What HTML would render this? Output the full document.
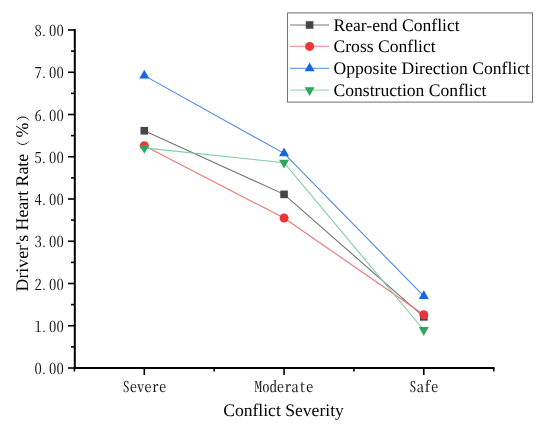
<!DOCTYPE html>
<html><head><meta charset="utf-8"><style>
html,body{margin:0;padding:0;background:#fff;}
svg{display:block;}
text{text-rendering:geometricPrecision;}
.tk{font-family:"Noto Serif CJK SC",serif;font-size:14.6px;font-feature-settings:"hwid";fill:#111;}
.lg{font-family:"Liberation Serif","Noto Serif CJK SC",serif;font-size:17.6px;fill:#000;}
.pr{font-family:"Noto Serif CJK SC",serif;font-size:13.5px;}
.ti{font-family:"Liberation Serif","Noto Serif CJK SC",serif;font-size:17.6px;fill:#000;}
</style></head><body>
<svg width="550" height="432" viewBox="0 0 550 432">
<rect width="550" height="432" fill="#fff"/>
<line x1="74.8" y1="29" x2="74.8" y2="369.0" stroke="#000" stroke-width="2"/>
<line x1="73.8" y1="368.0" x2="494.6" y2="368.0" stroke="#000" stroke-width="2"/>
<line x1="68" y1="368.00" x2="74.8" y2="368.00" stroke="#000" stroke-width="1.6"/>
<line x1="71" y1="346.88" x2="74.8" y2="346.88" stroke="#000" stroke-width="1.6"/>
<line x1="68" y1="325.75" x2="74.8" y2="325.75" stroke="#000" stroke-width="1.6"/>
<line x1="71" y1="304.62" x2="74.8" y2="304.62" stroke="#000" stroke-width="1.6"/>
<line x1="68" y1="283.50" x2="74.8" y2="283.50" stroke="#000" stroke-width="1.6"/>
<line x1="71" y1="262.38" x2="74.8" y2="262.38" stroke="#000" stroke-width="1.6"/>
<line x1="68" y1="241.25" x2="74.8" y2="241.25" stroke="#000" stroke-width="1.6"/>
<line x1="71" y1="220.12" x2="74.8" y2="220.12" stroke="#000" stroke-width="1.6"/>
<line x1="68" y1="199.00" x2="74.8" y2="199.00" stroke="#000" stroke-width="1.6"/>
<line x1="71" y1="177.88" x2="74.8" y2="177.88" stroke="#000" stroke-width="1.6"/>
<line x1="68" y1="156.75" x2="74.8" y2="156.75" stroke="#000" stroke-width="1.6"/>
<line x1="71" y1="135.62" x2="74.8" y2="135.62" stroke="#000" stroke-width="1.6"/>
<line x1="68" y1="114.50" x2="74.8" y2="114.50" stroke="#000" stroke-width="1.6"/>
<line x1="71" y1="93.38" x2="74.8" y2="93.38" stroke="#000" stroke-width="1.6"/>
<line x1="68" y1="72.25" x2="74.8" y2="72.25" stroke="#000" stroke-width="1.6"/>
<line x1="71" y1="51.12" x2="74.8" y2="51.12" stroke="#000" stroke-width="1.6"/>
<line x1="68" y1="30.00" x2="74.8" y2="30.00" stroke="#000" stroke-width="1.6"/>
<line x1="144.30" y1="368.0" x2="144.30" y2="375" stroke="#000" stroke-width="1.6"/>
<line x1="284.05" y1="368.0" x2="284.05" y2="375" stroke="#000" stroke-width="1.6"/>
<line x1="423.80" y1="368.0" x2="423.80" y2="375" stroke="#000" stroke-width="1.6"/>
<line x1="74.43" y1="368.0" x2="74.43" y2="371.5" stroke="#000" stroke-width="1.6"/>
<line x1="214.18" y1="368.0" x2="214.18" y2="371.5" stroke="#000" stroke-width="1.6"/>
<line x1="353.93" y1="368.0" x2="353.93" y2="371.5" stroke="#000" stroke-width="1.6"/>
<line x1="493.68" y1="368.0" x2="493.68" y2="371.5" stroke="#000" stroke-width="1.6"/>
<text class="tk" x="63.7" y="374.00" text-anchor="end">0<tspan dx="-1.5">.</tspan><tspan dx="1.5">00</tspan></text>
<text class="tk" x="63.7" y="331.75" text-anchor="end">1<tspan dx="-1.5">.</tspan><tspan dx="1.5">00</tspan></text>
<text class="tk" x="63.7" y="289.50" text-anchor="end">2<tspan dx="-1.5">.</tspan><tspan dx="1.5">00</tspan></text>
<text class="tk" x="63.7" y="247.25" text-anchor="end">3<tspan dx="-1.5">.</tspan><tspan dx="1.5">00</tspan></text>
<text class="tk" x="63.7" y="205.00" text-anchor="end">4<tspan dx="-1.5">.</tspan><tspan dx="1.5">00</tspan></text>
<text class="tk" x="63.7" y="162.75" text-anchor="end">5<tspan dx="-1.5">.</tspan><tspan dx="1.5">00</tspan></text>
<text class="tk" x="63.7" y="120.50" text-anchor="end">6<tspan dx="-1.5">.</tspan><tspan dx="1.5">00</tspan></text>
<text class="tk" x="63.7" y="78.25" text-anchor="end">7<tspan dx="-1.5">.</tspan><tspan dx="1.5">00</tspan></text>
<text class="tk" x="63.7" y="36.00" text-anchor="end">8<tspan dx="-1.5">.</tspan><tspan dx="1.5">00</tspan></text>
<text class="tk" x="144.30" y="391.5" text-anchor="middle">Severe</text>
<text class="tk" x="284.05" y="391.5" text-anchor="middle">Moderate</text>
<text class="tk" x="423.80" y="391.5" text-anchor="middle">Safe</text>
<polyline points="144.30,130.77 284.05,194.35 423.80,316.88" fill="none" stroke="#727272" stroke-width="1.1"/>
<rect x="140.50" y="126.97" width="7.60" height="7.60" fill="#464646"/>
<rect x="280.25" y="190.55" width="7.60" height="7.60" fill="#464646"/>
<rect x="420.00" y="313.08" width="7.60" height="7.60" fill="#464646"/>
<polyline points="144.30,145.77 284.05,218.01 423.80,314.76" fill="none" stroke="#f07575" stroke-width="1.1"/>
<circle cx="144.30" cy="145.77" r="4.5" fill="#ee3535"/>
<circle cx="284.05" cy="218.01" r="4.5" fill="#ee3535"/>
<circle cx="423.80" cy="314.76" r="4.5" fill="#ee3535"/>
<polyline points="144.30,75.63 284.05,153.37 423.80,296.18" fill="none" stroke="#4a86e8" stroke-width="1.1"/>
<polygon points="144.30,69.73 149.30,78.53 139.30,78.53" fill="#1b64e0"/>
<polygon points="284.05,147.47 289.05,156.27 279.05,156.27" fill="#1b64e0"/>
<polygon points="423.80,290.28 428.80,299.07 418.80,299.07" fill="#1b64e0"/>
<polyline points="144.30,147.88 284.05,162.66 423.80,329.98" fill="none" stroke="#7fcca2" stroke-width="1.1"/>
<polygon points="139.30,144.98 149.30,144.98 144.30,153.78" fill="#2da55f"/>
<polygon points="279.05,159.76 289.05,159.76 284.05,168.56" fill="#2da55f"/>
<polygon points="418.80,327.08 428.80,327.08 423.80,335.88" fill="#2da55f"/>
<rect x="287.5" y="12.9" width="245" height="89.2" fill="#fff" stroke="#777" stroke-width="1.05"/>
<line x1="290" y1="25.00" x2="329" y2="25.00" stroke="#a4a4a4" stroke-width="1.35"/>
<rect x="305.80" y="21.20" width="7.60" height="7.60" fill="#464646"/>
<text class="lg" x="333.5" y="30.90">Rear-end Conflict</text>
<line x1="290" y1="46.40" x2="329" y2="46.40" stroke="#f39a9a" stroke-width="1.35"/>
<circle cx="309.60" cy="46.40" r="4.5" fill="#ee3535"/>
<text class="lg" x="333.5" y="52.30">Cross Conflict</text>
<line x1="290" y1="68.40" x2="329" y2="68.40" stroke="#74a2ea" stroke-width="1.35"/>
<polygon points="309.60,62.50 314.60,71.30 304.60,71.30" fill="#1b64e0"/>
<text class="lg" x="333.5" y="74.30">Opposite Direction Conflict</text>
<line x1="290" y1="90.10" x2="329" y2="90.10" stroke="#a2dab9" stroke-width="1.35"/>
<polygon points="304.60,87.20 314.60,87.20 309.60,96.00" fill="#2da55f"/>
<text class="lg" x="333.5" y="96.00">Construction Conflict</text>
<text class="ti" x="283.5" y="416" text-anchor="middle">Conflict Severity</text>
<text class="ti" style="font-size:17.8px" transform="translate(27.7,0) rotate(-90)"><tspan x="-291.4">Driver's Heart Rate</tspan><tspan class="pr" x="-154.5" dx="0.7">（</tspan><tspan dx="2.9">%</tspan><tspan class="pr" dx="1.4">）</tspan></text>
</svg>
</body></html>
